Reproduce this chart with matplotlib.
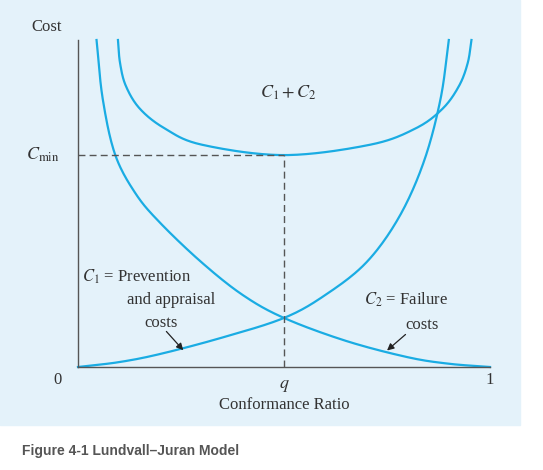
import numpy as np
import matplotlib.pyplot as plt
from matplotlib.patches import Rectangle

# curve points (x = conformance ratio, y = relative cost)
c1_x = [0.0, 0.1, 0.2, 0.35, 0.5, 0.6, 0.7, 0.78, 0.84, 0.88, 0.9]
c1_y = [0.0, 0.015, 0.04, 0.09, 0.15, 0.22, 0.32, 0.46, 0.63, 0.82, 1.0]
c2_x = [0.045, 0.06, 0.09, 0.14, 0.2, 0.3, 0.4, 0.5, 0.65, 0.8, 0.9, 1.0]
c2_y = [1.0, 0.82, 0.65, 0.53, 0.44, 0.32, 0.22, 0.15, 0.08, 0.03, 0.01, 0.0]
sum_x = [0.097, 0.102, 0.116, 0.15, 0.21, 0.3, 0.5, 0.71, 0.82, 0.885, 0.925, 0.946, 0.955]
sum_y = [1.0, 0.93, 0.86, 0.79, 0.73, 0.68, 0.648, 0.68, 0.73, 0.79, 0.86, 0.93, 1.0]
q = 0.5
cmin = 0.648


def smooth(xs, ys, n=20):
    p = np.column_stack([xs, ys])
    p = np.vstack([2 * p[0] - p[1], p, 2 * p[-1] - p[-2]])
    out = []
    for i in range(1, len(p) - 2):
        p0, p1, p2, p3 = p[i - 1], p[i], p[i + 1], p[i + 2]
        for t in np.linspace(0, 1, n, endpoint=False):
            out.append(0.5 * (2 * p1 + (-p0 + p2) * t + (2 * p0 - 5 * p1 + 4 * p2 - p3) * t**2
                              + (-p0 + 3 * p1 - 3 * p2 + p3) * t**3))
    out.append(p[-2])
    out = np.array(out)
    return out[:, 0], out[:, 1]


W, H = 543, 470
fig = plt.figure(figsize=(W / 100, H / 100), dpi=100)
ax = fig.add_axes([0, 0, 1, 1])
sx, sy = 412, 327
ax.set_xlim(-78 / sx, (W - 78) / sx)
ax.set_ylim((367 - H) / sy, 367 / sy)
ax.axis('off')

ax.add_patch(Rectangle((-78 / sx, (367 - 425) / sy), 520 / sx, 425 / sy,
                       color='#e4f2fa', zorder=0))

col = '#1aace3'
for xs, ys in [(c1_x, c1_y), (c2_x, c2_y), (sum_x, sum_y)]:
    x, y = smooth(xs, ys)
    ax.plot(x, y, color=col, lw=1.6)

ax.plot([0, 0], [0, 1.0], color='#555555', lw=1)
ax.plot([0, 1.0], [0, 0], color='#555555', lw=1)
ax.plot([0, q], [cmin, cmin], color='#555555', lw=1, ls=(0, (5, 3)))
ax.plot([q, q], [0, cmin], color='#555555', lw=1, ls=(0, (5, 3)))

serif = {'family': 'Liberation Serif', 'color': '#333333'}
ax.text(-0.075, 1.04, 'Cost', fontsize=12, ha='center', va='center', **serif)
ax.text(-0.045, cmin, r'$C_{\mathrm{min}}$', fontsize=13, ha='right', va='center',
        color='#333333', math_fontfamily='stix')
ax.text(-0.04, -0.04, '0', fontsize=12, ha='right', va='center', **serif)
ax.text(1.0, -0.04, '1', fontsize=12, ha='center', va='center', **serif)
ax.text(q, -0.055, r'$q$', fontsize=13, ha='center', va='center',
        color='#333333', math_fontfamily='stix')
ax.text(q, -0.115, 'Conformance Ratio', fontsize=12, ha='center', va='center', **serif)
ax.text(0.51, 0.84, r'$C_1 + C_2$', fontsize=13, ha='center', va='center',
        color='#333333', math_fontfamily='stix')
ax.text(0.01, 0.275, r'$C_1$ = Prevention', fontsize=12, ha='left', va='center',
        color='#333333', math_fontfamily='stix', family='Liberation Serif')
ax.text(0.118, 0.205, 'and appraisal', fontsize=12, ha='left', va='center', **serif)
ax.text(0.162, 0.135, 'costs', fontsize=12, ha='left', va='center', **serif)
ax.text(0.695, 0.205, r'$C_2$ = Failure', fontsize=12, ha='left', va='center',
        color='#333333', math_fontfamily='stix', family='Liberation Serif')
ax.text(0.795, 0.128, 'costs', fontsize=12, ha='left', va='center', **serif)
ax.annotate('', xy=(0.26, 0.045), xytext=(0.21, 0.115),
            arrowprops=dict(arrowstyle='-|>', color='#222222', lw=0.9))
ax.annotate('', xy=(0.745, 0.045), xytext=(0.8, 0.105),
            arrowprops=dict(arrowstyle='-|>', color='#222222', lw=0.9))

fig.text(22 / W, 1 - 451 / H, 'Figure 4-1 Lundvall\u2013Juran Model', fontsize=10,
         fontweight='bold', color='#555555', family='Liberation Sans', va='center')

fig.savefig('out.png', dpi=100)
